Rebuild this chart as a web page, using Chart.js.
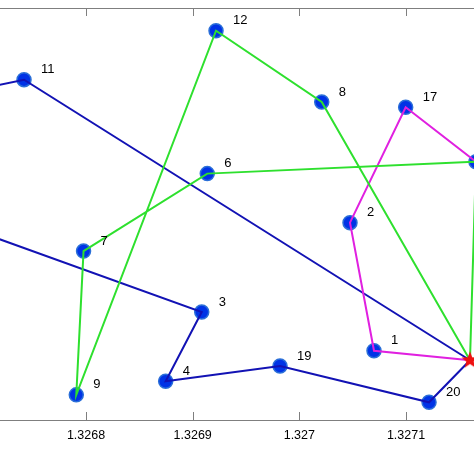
<!DOCTYPE html>
<html lang="en">
<head>
  <meta charset="UTF-8">
  <style>
    html, body { margin: 0; padding: 0; background: #fff; }
    #wrap { width: 474px; height: 474px; position: relative; }
  </style>
  <script src="https://cdn.jsdelivr.net/npm/chart.js"></script>
  <title>Routes</title>
</head>
<body>
<div id="wrap"><canvas id="routeChart"></canvas></div>
<script>
  // customer points (x, y in arbitrary units: 0 = bottom axis, 100 = top)
  const custNames = ['1', '2', '3', '4', '6', '7', '8', '9', '11', '12', '17', '19', '20', 'R1', 'L1', 'L2'];
  const custShow  = [true, true, true, true, true, true, true, true, true, true, true, true, true, false, false, false];
  const custX = [1.32707, 1.3270475, 1.3269085, 1.3268747, 1.3269137, 1.3267977, 1.327021, 1.3267909,
                 1.3267419, 1.3269219, 1.3270997, 1.3269819, 1.3271216, 1.3271656, 1.3266725, 1.3266725];
  const custY = [16.8, 47.9, 26.2, 9.4, 59.8, 41.0, 77.2, 6.1,
                 82.6, 94.5, 75.9, 13.1, 4.3, 62.7, 78.8, 48.2];

  // depot
  const depotX = 1.32716;
  const depotY = 14.5;

  // routes, by point name ('D' = depot)
  const blueRoute    = ['D', '11', 'L1', 'L2', '3', '4', '19', '20', 'D'];
  const greenRoute   = ['D', '8', '12', '9', '7', '6', 'R1', 'D'];
  const magentaRoute = ['D', '1', '2', '17', 'R1'];

  const xTicks = [1.3268, 1.3269, 1.327, 1.3271];
  const xMin = 1.32671938, xMax = 1.32716375;

  function pt(name) {
    if (name === 'D') return { x: depotX, y: depotY };
    const i = custNames.indexOf(name);
    return { x: custX[i], y: custY[i] };
  }

  function routeSet(route, color) {
    return {
      data: route.map(pt),
      showLine: true,
      borderColor: color,
      borderWidth: 2,
      pointRadius: 0,
      pointHoverRadius: 0,
      order: 1
    };
  }

  // red pentagram for the depot
  const starImg = document.createElement('canvas');
  starImg.width = 20; starImg.height = 20;
  (function () {
    const c = starImg.getContext('2d');
    c.beginPath();
    for (let k = 0; k < 10; k++) {
      const r = k % 2 === 0 ? 9 : 3.8;
      const a = -Math.PI / 2 + k * Math.PI / 5;
      const px = 10 + r * Math.cos(a), py = 10 + r * Math.sin(a);
      if (k === 0) c.moveTo(px, py); else c.lineTo(px, py);
    }
    c.closePath();
    c.fillStyle = '#ee1111';
    c.fill();
  })();

  const deco = {
    id: 'deco',
    afterDatasetsDraw(chart) {
      const { ctx, chartArea: a, scales: { x, y } } = chart;
      ctx.save();
      ctx.strokeStyle = '#7f7f7f';
      ctx.lineWidth = 1;
      ctx.beginPath();
      ctx.moveTo(a.left, a.top + 0.5);
      ctx.lineTo(a.right, a.top + 0.5);
      x.ticks.forEach(t => {
        const px = Math.round(x.getPixelForValue(t.value)) + 0.5;
        ctx.moveTo(px, a.top);
        ctx.lineTo(px, a.top + 8);
        ctx.moveTo(px, a.bottom);
        ctx.lineTo(px, a.bottom - 8);
      });
      ctx.stroke();

      ctx.fillStyle = '#000';
      ctx.font = '13px "Liberation Sans", Arial, sans-serif';
      ctx.textBaseline = 'middle';
      custNames.forEach((n, i) => {
        if (!custShow[i]) return;
        ctx.fillText(n, x.getPixelForValue(custX[i]) + 17, y.getPixelForValue(custY[i]) - 10);
      });
      ctx.restore();
    }
  };

  new Chart(document.getElementById('routeChart'), {
    type: 'scatter',
    data: {
      datasets: [
        routeSet(greenRoute, '#2ee02e'),
        routeSet(magentaRoute, '#e020e0'),
        routeSet(blueRoute, '#1212b4'),
        {
          data: custX.map((v, i) => ({ x: v, y: custY[i] })),
          pointRadius: 7,
          pointHoverRadius: 7,
          pointBackgroundColor: '#0033e6',
          pointBorderColor: '#2a6fd8',
          pointBorderWidth: 1.5,
          order: 2
        },
        {
          data: [{ x: depotX, y: depotY }],
          pointStyle: starImg,
          pointRadius: 9,
          order: 0
        }
      ]
    },
    options: {
      responsive: true,
      maintainAspectRatio: false,
      animation: false,
      events: [],
      layout: { autoPadding: false, padding: { top: 8, bottom: 23, left: 0, right: 0 } },
      plugins: { legend: { display: false }, tooltip: { enabled: false } },
      scales: {
        x: {
          type: 'linear',
          min: xMin,
          max: xMax,
          afterBuildTicks: s => { s.ticks = xTicks.map(v => ({ value: v })); },
          grid: { display: true, drawOnChartArea: false, drawTicks: false },
          border: { display: true, color: '#7f7f7f', width: 1 },
          ticks: {
            color: '#000',
            padding: 8,
            maxRotation: 0,
            font: { family: '"Liberation Sans", Arial, sans-serif', size: 12.5 },
            callback: v => Number(v.toFixed(4)).toString()
          }
        },
        y: { display: false, min: 0, max: 100 }
      }
    },
    plugins: [deco]
  });
</script>
</body>
</html>
